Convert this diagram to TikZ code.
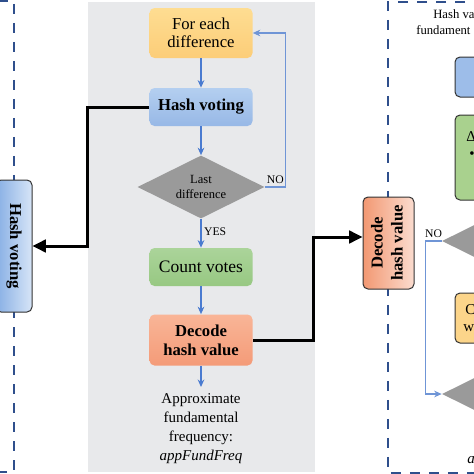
\documentclass[tikz,border=0pt]{standalone}
\usepackage{fontspec}
\setmainfont{Liberation Serif}
\usepackage{graphicx}
\usetikzlibrary{arrows.meta,shapes.geometric}

\definecolor{panelgray}{HTML}{E8E9EB}
\definecolor{diagray}{HTML}{9A9A9A}
\definecolor{flowblue}{HTML}{4A7BD0}
\definecolor{loopblue}{HTML}{6F95D6}
\definecolor{frameblue}{HTML}{2F4F8C}
\definecolor{eachtop}{HTML}{FEDD92}
\definecolor{eachbot}{HTML}{FCCD78}
\definecolor{hvtop}{HTML}{B4CFF0}
\definecolor{hvbot}{HTML}{97B8E6}
\definecolor{counttop}{HTML}{ABD49A}
\definecolor{countbot}{HTML}{97C882}
\definecolor{dectop}{HTML}{F9B597}
\definecolor{decbot}{HTML}{F49B78}
\definecolor{sideblue}{HTML}{86AEE4}
\definecolor{sidebluelt}{HTML}{D7E5F7}
\definecolor{sidesalmon}{HTML}{F29872}
\definecolor{sidesalmonlt}{HTML}{FBDCCF}
\definecolor{rblue}{HTML}{9DBDE9}
\definecolor{rgreen}{HTML}{A9D18E}
\definecolor{rorange}{HTML}{FCD58A}

\tikzset{
  stepbox/.style={rounded corners=3pt, minimum width=61.8pt, align=center,
    inner sep=0pt, font=\fontsize{10}{10.8}\selectfont},
  boldstep/.style={stepbox, font=\fontsize{10}{11.4}\selectfont\bfseries},
  decision/.style={diamond, aspect=2, fill=diagray, minimum width=76.2pt,
    minimum height=37.8pt, inner sep=0pt, align=center,
    font=\fontsize{7.5}{9}\selectfont},
  flow/.style={draw=flowblue, line width=0.8pt, -{Stealth[length=4.5pt,width=4pt]}},
  loopflow/.style={flow, draw=loopblue, line width=0.7pt},
  link/.style={draw=black, line width=1.8pt, -{Triangle[length=8pt,width=7.5pt]}},
  frame/.style={draw=frameblue, line width=1.4pt, dash pattern=on 6pt off 5.4pt},
  sidebox/.style={draw=black!80, line width=0.6pt, rounded corners=3pt, inner sep=0pt},
  tag/.style={font=\fontsize{7}{8}\selectfont, inner sep=1.5pt},
  cuttext/.style={anchor=west, inner sep=0pt, font=\fontsize{9}{10}\selectfont},
}

\begin{document}
\begin{tikzpicture}[x=0.6pt,y=-0.6pt]
  \useasboundingbox (0,0) rectangle (474,474);
  \fill[panelgray] (88,2) rectangle (315,472);
  \draw[frame] (-40,1) -- (14,1) -- (14,472) -- (-40,472);
  \draw[frame] (560,2) -- (388,2) -- (388,473) -- (560,473);

  \node[stepbox, top color=eachtop, bottom color=eachbot, minimum height=30pt] (each) at (201,33) {For each\\difference};
  \node[boldstep, top color=hvtop, bottom color=hvbot, minimum height=22.8pt] (hv) at (201,107) {Hash voting};
  \node[decision] (last) at (201,187) {Last\\difference};
  \node[stepbox, font=\fontsize{10.5}{12}\selectfont, top color=counttop, bottom color=countbot, minimum height=22.8pt] (count) at (201,267) {Count votes};
  \node[boldstep, top color=dectop, bottom color=decbot, minimum height=30.6pt] (dec) at (201,340) {Decode\\hash value};
  \node[anchor=north, align=center, inner xsep=0pt, inner ysep=4pt, font=\fontsize{9}{11.4}\selectfont] (freq) at (201,387) {Approximate\\fundamental\\frequency:\\\textit{appFundFreq}};

  \draw[flow] (each) -- (hv);
  \draw[flow] (hv) -- (last);
  \draw[flow] (last) -- node[tag, right, pos=0.45] (yes) {YES} (count);
  \draw[flow] (count) -- (dec);
  \draw[flow] (dec) -- (freq);
  \draw[loopflow] (last.east) -- node[tag, above] (no) {NO} ++(21,0) |- (each.east);

  \node[sidebox, left color=sideblue, right color=sidebluelt, minimum width=21.6pt, minimum height=79.2pt] (hvside) at (14,246) {\rotatebox{-90}{\fontsize{10}{12}\selectfont\bfseries Hash voting}};
  \node[sidebox, left color=sidesalmon, right color=sidesalmonlt, minimum width=30.6pt, minimum height=55.2pt] (decside) at (388.5,243) {\rotatebox{90}{\fontsize{10}{12}\selectfont\bfseries\begin{tabular}{@{}c@{}}Decode\\hash value\end{tabular}}};

  \draw[link] (hv.west) -- ++(-62,0) |- (hvside.east);
  \draw[link] (dec.east) -- ++(61,0) |- ([yshift=3.6pt]decside.west);

  \node[cuttext, font=\fontsize{7.6}{9}\selectfont] (title1) at (433,14) {Hash va};
  \node[cuttext, font=\fontsize{7.6}{9}\selectfont] (title2) at (416,30) {fundament};
  \node[sidebox, fill=rblue, minimum width=60pt, minimum height=24pt] (rhash) at (505,77) {};
  \node[sidebox, fill=rgreen, minimum width=60pt, minimum height=51pt] (rdelta) at (505,157.5) {};
  \node[cuttext] (delta) at (466,137) {Δ};
  \node[cuttext] (dot) at (469,155) {•};
  \node[decision] (rlast1) at (505.5,241) {};
  \node[sidebox, fill=rorange, minimum width=60pt, minimum height=30pt] (rcalc) at (505,318) {};
  \node[cuttext] (calc1) at (465,310) {C};
  \node[cuttext] (calc2) at (463,328) {w};
  \node[decision] (rlast2) at (505.5,394) {};
  \node[cuttext] (rfreq) at (467,460) {\textit{a}};
  \draw[loopflow] (rlast1.west) -- node[tag, above] (rno) {NO} ++(-16,0) |- (rlast2.west);
\end{tikzpicture}
\end{document}
